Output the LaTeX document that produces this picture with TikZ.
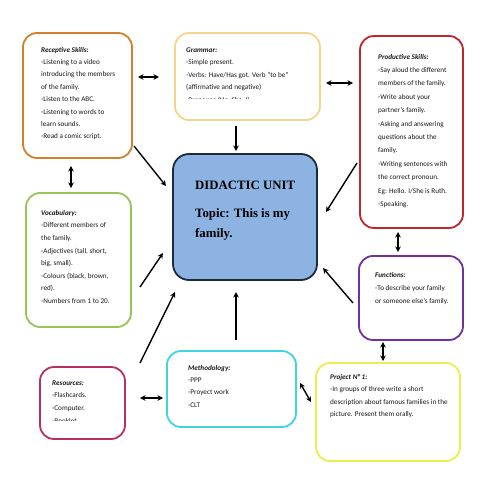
\documentclass[tikz,border=0pt]{standalone}
\usepackage{fontspec}
\setmainfont{Carlito}
\newfontfamily\headfont{Liberation Serif}
\usetikzlibrary{arrows.meta}
\definecolor{crec}{HTML}{D2802F}
\definecolor{cgram}{HTML}{F7D48C}
\definecolor{cprod}{HTML}{C0262D}
\definecolor{cvoc}{HTML}{98C45A}
\definecolor{cfunc}{HTML}{7030A0}
\definecolor{cres}{HTML}{B8305E}
\definecolor{cmeth}{HTML}{3FD4E4}
\definecolor{cproj}{HTML}{F0EC50}
\definecolor{ccfill}{HTML}{8DB3E2}
\definecolor{ccdraw}{HTML}{1C2A3A}
\tikzset{
  card/.style={draw=#1, line width=1.8pt, rounded corners=14pt, fill=white, inner sep=0pt},
  txt/.style={anchor=north west, inner sep=0pt, align=left, text=black!90, font=\fontsize{7.2}{#1}\selectfont},
  arr/.style={line width=1.4pt, -{Stealth[length=5.5pt,width=5.5pt]}},
  darr/.style={line width=1.4pt, {Stealth[length=5.5pt,width=5.5pt]}-{Stealth[length=5.5pt,width=5.5pt]}},
}
\newcommand{\ttl}[1]{\textbf{\textit{#1}}}
\begin{document}
\begin{tikzpicture}[x=1pt,y=-1pt]
\useasboundingbox[fill=white] (0,0) rectangle (495,495);
% boxes
\node[card=crec, minimum width=109pt, minimum height=125pt] (rec) at (77.5,95.5) {};
\node[card=cgram, minimum width=145pt, minimum height=87pt] (gram) at (247.5,76.5) {};
\node[card=cprod, minimum width=103pt, minimum height=192pt] (prod) at (411.5,132) {};
\node[card=cvoc, minimum width=105pt, minimum height=134pt] (voc) at (78.5,260) {};
\node[draw=ccdraw, fill=ccfill, line width=1.8pt, rounded corners=16pt, minimum width=144pt, minimum height=126pt] (center) at (245,217) {};
\node[card=cfunc, minimum width=104pt, minimum height=84pt] (func) at (411,298) {};
\node[card=cres, minimum width=85pt, minimum height=72pt] (res) at (82.5,403) {};
\node[card=cmeth, minimum width=129pt, minimum height=76pt] (meth) at (231.5,389) {};
\node[card=cproj, minimum width=144pt, minimum height=98pt] (proj) at (388,412) {};
% texts
\node[txt=12.4] (trec) at (41,43.3) {\strut\ttl{Receptive Skills:}\\-Listening to a video\\introducing the members\\of the family.\\-Listen to the ABC.\\-Listening to words to\\learn sounds.\\-Read a comic script.};
\begin{scope}
\clip (180,38) rectangle (318,98.5);
\node[txt=12.5] (tgram) at (186,43.2) {\strut\ttl{Grammar:}\\-Simple present.\\-Verbs: Have/Has got. Verb ``to be''\\(affirmative and negative)\\-Pronouns (He, She, I)};
\end{scope}
\node[txt=13.4] (tprod) at (378,49.6) {\strut\ttl{Productive Skills:}\\-Say aloud the different\\members of the family.\\-Write about your\\partner's family.\\-Asking and answering\\questions about the\\family.\\-Writing sentences with\\the correct pronoun.\\Eg: Hello. I/She is Ruth.\\-Speaking.};
\node[txt=12.6] (tvoc) at (41,206.2) {\strut\ttl{Vocabulary:}\\-Different members of\\the family.\\-Adjectives (tall, short,\\big, small).\\-Colours (black, brown,\\red).\\-Numbers from 1 to 20.};
\node[txt=13] (tfunc) at (375,267.9) {\strut\ttl{Functions:}\\-To describe your family\\or someone else's family.};
\begin{scope}
\clip (45,370) rectangle (122,420);
\node[txt=12.7] (tres) at (52,376.1) {\strut\ttl{Resources:}\\-Flashcards.\\-Computer.\\-Booklet.};
\end{scope}
\node[txt=12.3] (tmeth) at (188,361.4) {\strut\ttl{Methodology:}\\-PPP\\-Proyect work\\-CLT};
\node[txt=12.5] (tproj) at (330,370.2) {\strut\ttl{Project N° 1:}\\-In groups of three write a short\\description about famous families in the\\picture. Present them orally.};
% centre text
\node[anchor=base west, inner sep=0pt, font=\headfont\bfseries\fontsize{12.8}{20}\selectfont] (dtitle) at (195,189) {DIDACTIC UNIT};
\node[anchor=north west, inner sep=0pt, align=left, font=\headfont\bfseries\fontsize{12.8}{20}\selectfont] (dtopic) at (195,203) {\strut Topic: This is my\\family.};
% arrow end points
\coordinate (a1) at (138,77);   \coordinate (b1) at (159,77);
\coordinate (a2) at (326,83);   \coordinate (b2) at (353,83);
\coordinate (a3) at (134,146);  \coordinate (b3) at (166,186);
\coordinate (a4) at (236,126);  \coordinate (b4) at (236,151);
\coordinate (a5) at (357,163);  \coordinate (b5) at (326,212);
\coordinate (a6) at (71,166);   \coordinate (b6) at (71,188);
\coordinate (a7) at (398,232);  \coordinate (b7) at (398,252);
\coordinate (a8) at (140,287);  \coordinate (b8) at (163,253);
\coordinate (a9) at (140,363);  \coordinate (b9) at (175,292);
\coordinate (a10) at (236,340); \coordinate (b10) at (236,292);
\coordinate (a11) at (353,303); \coordinate (b11) at (323,268);
\coordinate (a12) at (383,342); \coordinate (b12) at (383,361);
\coordinate (a13) at (140,398); \coordinate (b13) at (163,398);
\coordinate (a14) at (300,383); \coordinate (b14) at (311,402);
% connectors
\draw[darr] (a1) -- (b1);
\draw[darr] (a2) -- (b2);
\draw[arr] (a3) -- (b3);
\draw[arr] (a4) -- (b4);
\draw[arr] (a5) -- (b5);
\draw[darr] (a6) -- (b6);
\draw[darr] (a7) -- (b7);
\draw[arr] (a8) -- (b8);
\draw[arr] (a9) -- (b9);
\draw[arr] (a10) -- (b10);
\draw[arr] (a11) -- (b11);
\draw[darr] (a12) -- (b12);
\draw[darr] (a13) -- (b13);
\draw[darr] (a14) -- (b14);
\end{tikzpicture}
\end{document}
